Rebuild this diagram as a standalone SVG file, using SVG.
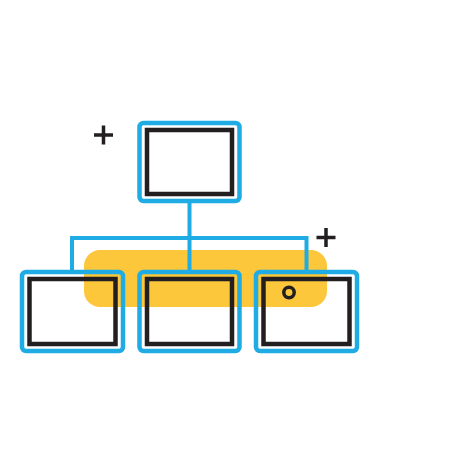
<svg xmlns="http://www.w3.org/2000/svg" width="474" height="474" viewBox="0 0 474 474">
<style>
.outer{fill:none;stroke:#1fabe4;stroke-width:4.5}
.inner{fill:none;stroke:#231f20;stroke-width:4.5}
.conn{fill:none;stroke:#1fabe4;stroke-width:4}
.plus{fill:none;stroke:#231f20;stroke-width:3.5}
</style>
<rect width="474" height="474" fill="#ffffff"/>
<rect id="highlight" x="84" y="250" width="243" height="57" rx="16" fill="#fcc73a"/>
<g id="connectors">
<path class="conn" d="M189.5 203V272M72 272V238H306.5V272"/>
</g>
<g id="node-top">
<rect class="outer" x="139.5" y="123" width="100" height="78" rx="4"/>
<rect class="inner" x="147" y="130" width="85" height="64"/>
</g>
<g id="node-left">
<rect class="outer" x="22" y="272" width="101" height="79" rx="4"/>
<rect class="inner" x="29.5" y="279" width="86" height="65"/>
</g>
<g id="node-middle">
<rect class="outer" x="139.5" y="272" width="100" height="79" rx="4"/>
<rect class="inner" x="147" y="279" width="85" height="65"/>
</g>
<g id="node-right">
<rect class="outer" x="256" y="272" width="101" height="79" rx="4"/>
<rect class="inner" x="263.5" y="279" width="86" height="65"/>
<circle cx="289" cy="292.5" r="5.2" fill="none" stroke="#231f20" stroke-width="3.5"/>
</g>
<g id="plus-signs">
<path class="plus" d="M94 135H113M103.5 125.5V144.5"/>
<path class="plus" d="M316.5 237.5H335.5M326 228V247"/>
</g>
</svg>
